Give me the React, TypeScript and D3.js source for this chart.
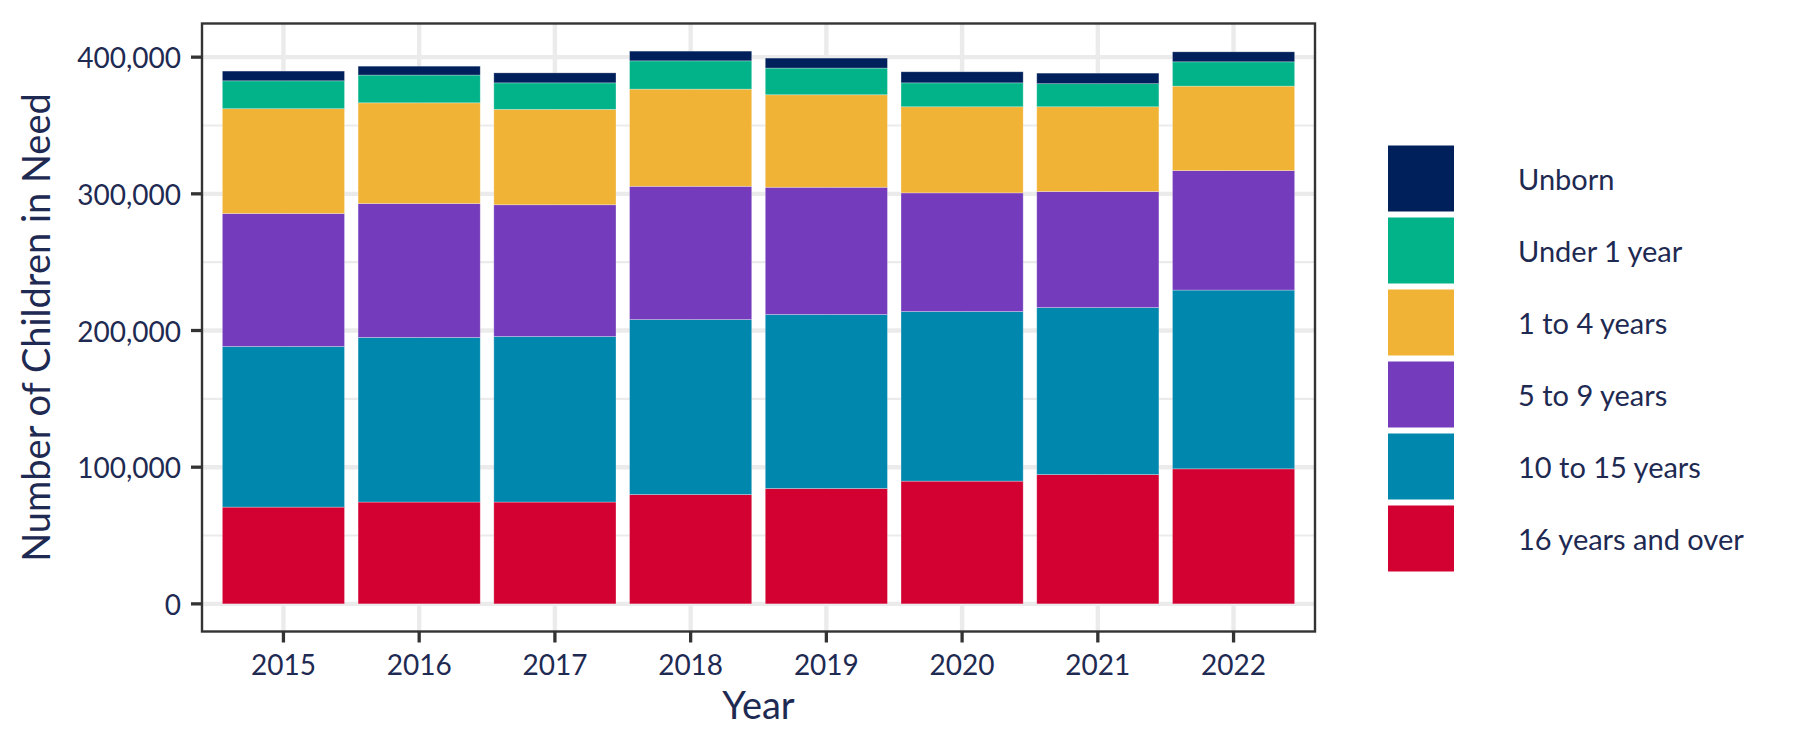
import { scaleBand, scaleLinear, stack, range } from "d3";

const years = ["2015", "2016", "2017", "2018", "2019", "2020", "2021", "2022"];

// bottom to top in stacking order
const ageGroups = [
  "16 years and over",
  "10 to 15 years",
  "5 to 9 years",
  "1 to 4 years",
  "Under 1 year",
  "Unborn",
];

const over16 = [70800, 74500, 74500, 80000, 84400, 89800, 94600, 98800];
const age10to15 = [117500, 120400, 121100, 128000, 127300, 124100, 122200, 130800];
const age5to9 = [97300, 98000, 96400, 97500, 93100, 86800, 84900, 87400];
const age1to4 = [76700, 73700, 69800, 71100, 67700, 63000, 62000, 61800];
const under1 = [20400, 20300, 19400, 20700, 19500, 17500, 16900, 17800];
const unborn = [7100, 6500, 7300, 7100, 7300, 8100, 7700, 7300];

const yTicks = [0, 100000, 200000, 300000, 400000];
const yMinorTicks = [50000, 150000, 250000, 350000];

const colors: Record<string, string> = {
  "16 years and over": "#d30032",
  "10 to 15 years": "#0087ae",
  "5 to 9 years": "#743bbc",
  "1 to 4 years": "#f0b335",
  "Under 1 year": "#02b38a",
  Unborn: "#00205b",
};

const seriesValues = [over16, age10to15, age5to9, age1to4, under1, unborn];

const W = 1800;
const H = 750;
const panel = { left: 202, right: 1315, top: 23.5, bottom: 631.5 };
const textColor = "#1e2a52";
const font = "Lato, 'Noto Sans', sans-serif";

export default function App() {
  const rows = years.map((year, i) => {
    const row: Record<string, any> = { year };
    ageGroups.forEach((g, j) => (row[g] = seriesValues[j][i]));
    return row;
  });

  const layers = stack<Record<string, any>>().keys(ageGroups)(rows);
  const maxTotal = Math.max(...rows.map((r) => ageGroups.reduce((s, g) => s + r[g], 0)));

  const x = scaleBand<string>()
    .domain(years)
    .range([panel.left, panel.right])
    .paddingInner(0.1)
    .paddingOuter(0.15);

  const y = scaleLinear()
    .domain([-0.05 * maxTotal, 1.05 * maxTotal])
    .range([panel.bottom, panel.top]);

  const center = (d: string) => (x(d) as number) + x.bandwidth() / 2;
  const fmt = (v: number) => v.toLocaleString("en-US");

  // legend from top: reversed stacking order
  const legendItems = [...ageGroups].reverse();
  const keySize = 66;
  const keyStep = 72;
  const legendTop = 145.5;
  const legendLeft = 1388;

  return (
    <svg
      width={W}
      height={H}
      style={{ position: "absolute", left: 0, top: 0, background: "#fff" }}
      fontFamily={font}
    >
      <rect x={0} y={0} width={W} height={H} fill="#fff" />

      {/* grid */}
      <g>
        {yMinorTicks.map((t) => (
          <line key={"mn" + t} x1={panel.left} x2={panel.right} y1={y(t)} y2={y(t)} stroke="#ebebeb" strokeWidth={2.2} />
        ))}
        {yTicks.map((t) => (
          <line key={"mj" + t} x1={panel.left} x2={panel.right} y1={y(t)} y2={y(t)} stroke="#ebebeb" strokeWidth={4.4} />
        ))}
        {years.map((yr) => (
          <line key={"vx" + yr} x1={center(yr)} x2={center(yr)} y1={panel.top} y2={panel.bottom} stroke="#ebebeb" strokeWidth={4.4} />
        ))}
      </g>

      {/* bars */}
      <g>
        {layers.map((layer) => (
          <g key={layer.key} fill={colors[layer.key]}>
            {layer.map((d, i) => (
              <rect
                key={i}
                x={x(years[i])}
                width={x.bandwidth()}
                y={y(d[1])}
                height={y(d[0]) - y(d[1])}
                stroke="#ffffff"
                strokeOpacity={0.35}
                strokeWidth={0.8}
              />
            ))}
          </g>
        ))}
      </g>

      {/* panel border */}
      <rect
        x={panel.left}
        y={panel.top}
        width={panel.right - panel.left}
        height={panel.bottom - panel.top}
        fill="none"
        stroke="#333333"
        strokeWidth={2.4}
      />

      {/* y axis */}
      <g>
        {yTicks.map((t) => (
          <g key={"yt" + t}>
            <line x1={panel.left - 11} x2={panel.left} y1={y(t)} y2={y(t)} stroke="#333333" strokeWidth={3.3} />
            <text
              x={panel.left - 21}
              y={y(t)}
              textAnchor="end"
              dominantBaseline="central"
              fontSize={28}
              fill={textColor}
            >
              {fmt(t)}
            </text>
          </g>
        ))}
        <text
          transform={`translate(50,${(panel.top + panel.bottom) / 2}) rotate(-90)`}
          textAnchor="middle"
          fontSize={38}
          fill={textColor}
        >
          Number of Children in Need
        </text>
      </g>

      {/* x axis */}
      <g>
        {years.map((yr) => (
          <g key={"xt" + yr}>
            <line x1={center(yr)} x2={center(yr)} y1={panel.bottom} y2={panel.bottom + 11} stroke="#333333" strokeWidth={3.3} />
            <text x={center(yr)} y={675} textAnchor="middle" fontSize={28} fill={textColor}>
              {yr}
            </text>
          </g>
        ))}
        <text x={(panel.left + panel.right) / 2} y={719} textAnchor="middle" fontSize={38} fill={textColor}>
          Year
        </text>
      </g>

      {/* legend */}
      <g>
        {range(legendItems.length).map((i) => {
          const g = legendItems[i];
          const top = legendTop + i * keyStep;
          return (
            <g key={g}>
              <rect x={legendLeft} y={top} width={keySize} height={keySize} fill={colors[g]} />
              <text
                x={1518}
                y={top + keySize / 2}
                dominantBaseline="central"
                fontSize={29}
                fill={textColor}
              >
                {g}
              </text>
            </g>
          );
        })}
      </g>
    </svg>
  );
}
